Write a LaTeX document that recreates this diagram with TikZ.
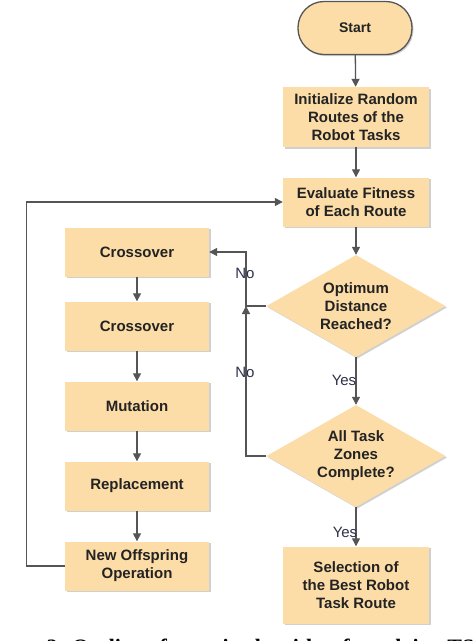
\documentclass[tikz,border=0pt]{standalone}
\usepackage{fontspec}
\setmainfont{Liberation Sans}
\newfontfamily\capfont{Liberation Serif}
\usetikzlibrary{arrows.meta,shapes.geometric,shadows}
\definecolor{boxfill}{RGB}{252,221,168}
\definecolor{linec}{RGB}{85,85,85}
\definecolor{txt}{RGB}{35,35,35}
\definecolor{lblc}{RGB}{45,50,75}
\begin{document}
\begin{tikzpicture}[x=1pt,y=-1pt,
  shade/.style={drop shadow={shadow xshift=1.5pt,shadow yshift=-1.5pt,fill=black!30,opacity=0.6}},
  proc/.style={fill=boxfill,shade,align=center,text=txt,inner sep=0pt,
    font=\bfseries\fontsize{15}{18}\selectfont},
  lbox/.style={proc,minimum width=144pt,minimum height=49pt},
  rbox/.style={proc,minimum width=146pt},
  decide/.style={diamond,fill=boxfill,shade,align=center,text=txt,inner sep=0pt,
    aspect=1.75,minimum width=179pt,minimum height=102pt,
    font=\bfseries\fontsize{15}{18}\selectfont},
  term/.style={fill=boxfill,draw=linec,line width=1.3pt,rounded corners=26pt,
    minimum width=114pt,minimum height=53pt,text=txt,shade,
    font=\bfseries\fontsize{14}{18}\selectfont},
  arr/.style={draw=linec,line width=1.3pt,-{Triangle[length=8pt,width=8pt]}},
  lbl/.style={text=lblc,font=\fontsize{15}{16}\selectfont,inner sep=0pt}
]
\useasboundingbox (0,0) rectangle (474,641);
\clip (0,0) rectangle (474,641);
\fill[white] (0,0) rectangle (474,641);

\node[term] (start) at (355,28) {Start};
\node[rbox,minimum height=60pt] (init) at (356,117) {Initialize Random\\Routes of the\\Robot Tasks};
\node[rbox,minimum height=49pt] (eval) at (356,202) {Evaluate Fitness\\of Each Route};
\node[decide] (d1) at (356,306) {Optimum\\Distance\\Reached?};
\node[decide] (d2) at (356,456) {All Task\\Zones\\Complete?};
\node[rbox,minimum height=77pt] (sel) at (356,585) {Selection of\\the Best Robot\\Task Route};

\node[lbox] (c1) at (137,252) {Crossover};
\node[lbox] (c2) at (137,326) {Crossover};
\node[lbox] (mut) at (137,406) {Mutation};
\node[lbox] (rep) at (137,486) {Replacement};
\node[lbox] (off) at (137,566) {New Offspring\\Operation};

\coordinate (j) at (246,306);

\draw[arr] (start) -- (init);
\draw[arr] (init) -- (eval);
\draw[arr] (eval) -- (d1);
\draw[arr] (d1) -- node[lbl,pos=0.48,xshift=-12pt] (y1) {Yes} (d2);
\draw[arr] (d2) -- node[lbl,pos=0.64,xshift=-11pt] (y2) {Yes} (sel);
\draw[arr] (d1.west) -- (j) |- node[lbl,pos=0.3,xshift=-1pt] (n1) {No} (c1.east);
\draw[arr] (d2.west) -| node[lbl,pos=0.78,xshift=-1pt] (n2) {No} (j);
\draw[arr] (c1) -- (c2);
\draw[arr] (c2) -- (mut);
\draw[arr] (mut) -- (rep);
\draw[arr] (rep) -- (off);
\draw[arr] (off.west) -- ++(-38,0) |- (eval.west);

\node[anchor=base west,text=black,inner sep=0pt,
  font=\capfont\bfseries\fontsize{22}{26}\selectfont] (cap) at (72,654)
  {\llap{Figure 2: }Outline of genetic algorithm for solving TSP};
\end{tikzpicture}
\end{document}
